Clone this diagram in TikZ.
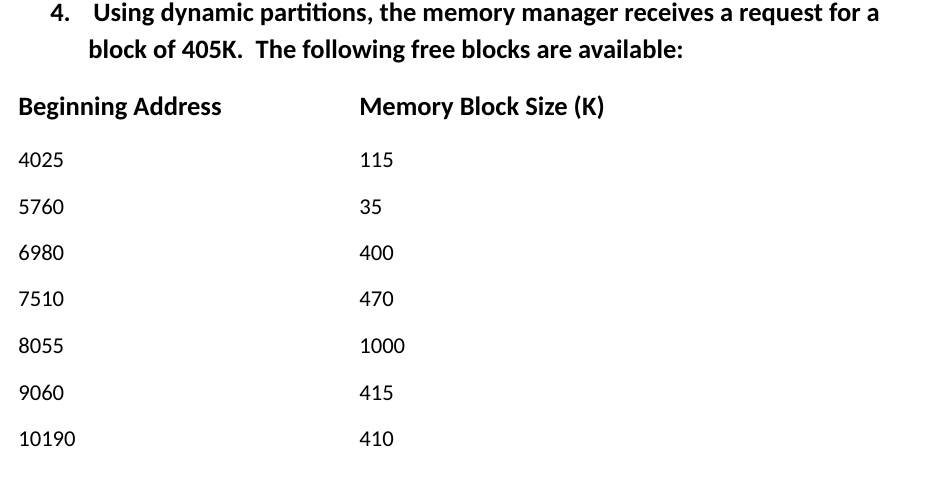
\documentclass[tikz,border=0pt]{standalone}
\usepackage{fontspec}
\setmainfont{Carlito}
\begin{document}
\begin{tikzpicture}[x=0.75pt,y=-0.75pt,
  txt/.style={anchor=base west,inner sep=0pt,font=\fontsize{17}{20}\selectfont},
  hd/.style={anchor=base west,inner sep=0pt,font=\fontsize{19.9}{22}\selectfont\bfseries}]
\useasboundingbox (0,0) rectangle (946,478);
\node[hd] (n4) at (50,22) {4.};
\node[hd] (t1) at (93,22) {Using dynamic partitions, the memory manager receives a request for a};
\node[hd] (t2) at (88,59) {block of 405K.\ \ The following free blocks are available:};
\node[hd] (h1) at (18,115) {Beginning Address};
\node[hd] (h2) at (359,115) {Memory Block Size (K)};
\foreach \a/\s/\y [count=\i] in {4025/115/167,5760/35/214,6980/400/260,7510/470/306,8055/1000/353,9060/415/400,10190/410/446}{
  \node[txt] (a\i) at (18,\y) {\a};
  \node[txt] (s\i) at (359,\y) {\s};
}
\end{tikzpicture}
\end{document}
